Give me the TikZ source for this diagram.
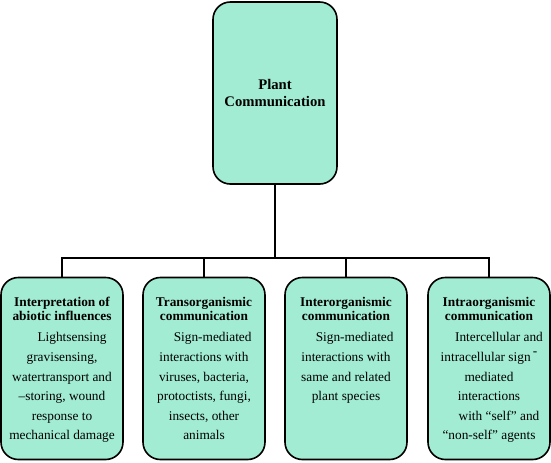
\documentclass[tikz,border=0pt]{standalone}
\usepackage{fontspec}
\setmainfont{Liberation Serif}
\definecolor{mint}{RGB}{162,236,212}
\newcommand{\boxhead}[1]{{\bfseries\setlength{\baselineskip}{10.4pt}#1\par}\vspace{1.6pt}}
\newcommand{\boxtext}[2]{\parbox[c][136.5pt][t]{91.5pt}{\centering\vspace*{14.6pt}%
  \boxhead{#1}\setlength{\baselineskip}{14.7pt}#2\par}}
\tikzset{
  rootbox/.style={draw, line width=1.2pt, fill=mint, rounded corners=13pt,
    minimum width=93pt, minimum height=136.5pt, inner sep=0pt, align=center,
    font=\bfseries\fontsize{11}{12.8}\selectfont},
  leafbox/.style={draw, line width=1.2pt, fill=mint, rounded corners=13pt,
    inner sep=0pt, font=\fontsize{10}{12}\selectfont},
  link/.style={line width=2.2pt}
}
\begin{document}
\begin{tikzpicture}[x=0.75pt, y=-0.75pt]
    \useasboundingbox (0, 0) rectangle (551, 462);

    \node[rootbox] (plant) at (275, 93) {Plant\\Communication};

    \node[leafbox] (abiotic) at (62, 368.5) {\boxtext{Interpretation of\\abiotic influences}
      {\hspace*{1.5em}Lightsensing\\gravisensing,\\watertransport and\\–storing, wound\\response to\\mechanical damage}};
    \node[leafbox] (trans) at (204, 368.5) {\boxtext{Transorganismic\\communication}
      {\hspace*{1.3em}Sign-mediated\\interactions with\\viruses, bacteria,\\protoctists, fungi,\\insects, other\\animals}};
    \node[leafbox] (inter) at (346, 368.5) {\boxtext{Interorganismic\\communication}
      {\hspace*{1.3em}Sign-mediated\\interactions with\\same and related\\plant species}};
    \node[leafbox] (intra) at (489, 368.5) {\boxtext{Intraorganismic\\communication}
      {\hspace*{1.5em}Intercellular and\\intracellular sign\,\raisebox{0.9ex}{-}\\mediated\\interactions\\\hspace*{1.5em}with “self” and\\“non-self” agents}};

    \coordinate (bus) at (275, 258);
    \draw[link] (plant.south) -- (bus);
    \draw[link] (bus) -| (abiotic.north);
    \draw[link] (bus) -| (trans.north);
    \draw[link] (bus) -| (inter.north);
    \draw[link] (bus) -| (intra.north);
  \end{tikzpicture}
\end{document}
